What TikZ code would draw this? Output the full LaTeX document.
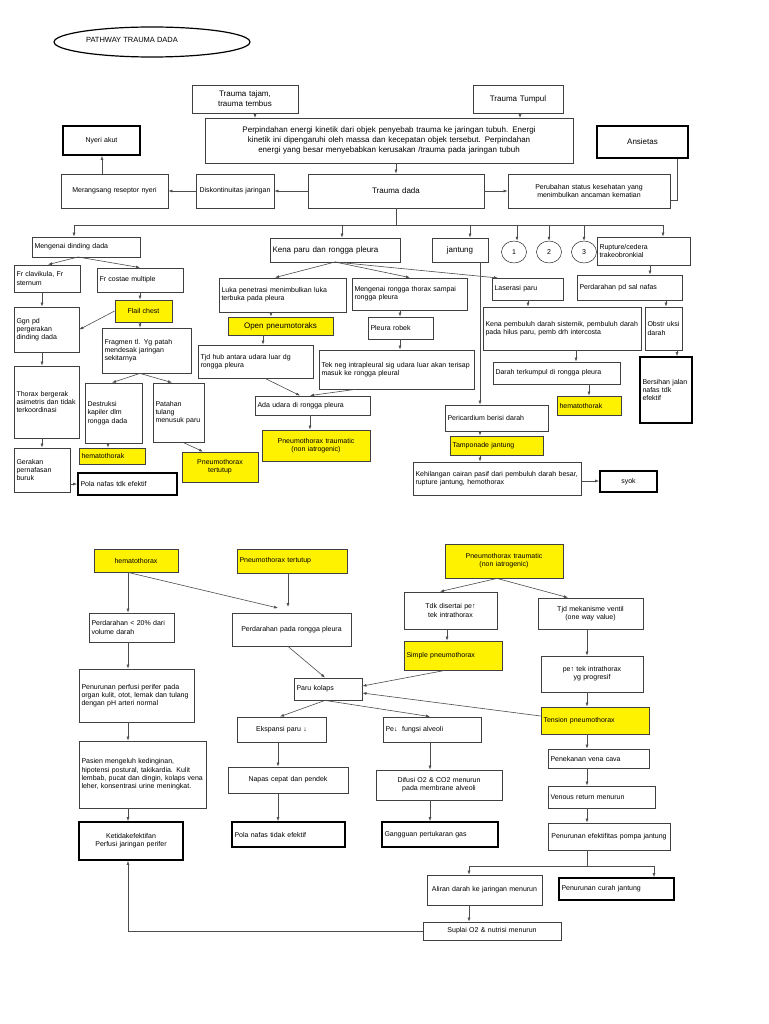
\documentclass[tikz,border=0pt]{standalone}
\usepackage{fontspec}
\setmainfont{Liberation Sans}
\usetikzlibrary{arrows.meta,shapes.geometric}
\hyphenpenalty=10000
\exhyphenpenalty=10000
\newcommand\B[7]{%
 \pgfmathsetmacro\bw{#4-#2}\pgfmathsetmacro\bh{#5-#3}\pgfmathsetmacro\tw{#4-#2-5}%
 \node[box,#6,minimum width=\bw pt,minimum height=\bh pt,text width=\tw pt] (#1) at ({(#2+#4)/2},{(#3+#5)/2}) {#7};}
\begin{document}
\begin{tikzpicture}[x=1pt,y=-1pt,
 box/.style={draw=black!75,line width=0.8pt,inner sep=1pt,font=\fontsize{7}{8.3}\selectfont,align=left},
 thick box/.style={line width=1.8pt,draw=black},
 yel/.style={fill=yellow},
 cen/.style={align=center},
 big/.style={font=\fontsize{8}{9.8}\selectfont},
 ar/.style={draw=black!70,line width=0.6pt,-{Latex[length=4pt,width=3pt]}},
 ln/.style={draw=black!70,line width=0.6pt}]
\useasboundingbox (0,0) rectangle (768,1024);
\fill[white] (0,0) rectangle (768,1024);
% title
\node[draw,ellipse,line width=1.2pt,minimum width=182pt,minimum height=30pt,font=\fontsize{7.5}{8}\selectfont] (title) at (152,42) {\raisebox{5pt}{PATHWAY TRAUMA DADA}\hspace*{40pt}};
% top
\B{t1}{192}{85}{298}{113}{cen,big}{Trauma tajam,\\trauma tembus}
\B{t2}{473}{85}{563}{113}{cen,big}{Trauma Tumpul}
\B{en}{205}{118}{573}{163}{cen,big}{Perpindahan energi kinetik dari objek penyebab trauma ke jaringan tubuh. Energi kinetik ini dipengaruhi oleh massa dan kecepatan objek tersebut. Perpindahan energi yang besar menyebabkan kerusakan /trauma pada jaringan tubuh}
\B{nyeri}{63}{126}{140}{155}{thick box,cen}{Nyeri akut\\[8pt]}
\B{ans}{597}{126}{688}{158}{thick box,cen,big}{Ansietas\\[6pt]}
\B{mer}{61}{174}{168}{208}{cen}{Merangsang reseptor nyeri}
\B{disk}{196}{174}{274}{208}{cen}{Diskontinuitas jaringan}
\B{td}{308}{174}{484}{208}{cen,big}{Trauma dada\\[10pt]}
\B{perub}{508}{174}{670}{208}{cen}{Perubahan status kesehatan yang menimbulkan ancaman kematian}
\draw[ar] (t1.south-|255,0) -- (255,118);
\draw[ar] (t2.south-|520,0) -- (520,118);
\draw[ar] (en.south-|396,0) -- (td.north-|396,0);
\draw[ar] (td.west) -- (disk.east);
\draw[ar] (disk.west) -- (mer.east);
\draw[ar] (mer.north-|102,0) -- (nyeri.south-|102,0);
\draw[ar] (td.east) -- (perub.west);
\draw[ln] (perub.east|-0,200) -| (ans.south-|677,0);
% bus
\coordinate (bus) at (396,225);
\draw[ln] (td.south-|396,0) -- (bus);
\draw[ln] (74,225) -- (663,225);
\B{meng}{32}{237}{140}{257}{}{Mengenai dinding dada}
\B{kena}{270}{238}{400}{262}{big}{Kena paru dan rongga pleura}
\B{jan}{432}{238}{488}{262}{big,cen}{jantung}
\node[draw,ellipse,minimum width=25pt,minimum height=22pt,font=\fontsize{7}{8}\selectfont] (c1) at (514,252) {1};
\node[draw,ellipse,minimum width=25pt,minimum height=22pt,font=\fontsize{7}{8}\selectfont] (c2) at (549,252) {2};
\node[draw,ellipse,minimum width=25pt,minimum height=22pt,font=\fontsize{7}{8}\selectfont] (c3) at (584,252) {3};
\B{rup}{597}{237}{690}{265}{}{Rupture/cedera trakeobronkial}
\draw[ar] (74,225) -- (meng.north-|74,0);
\draw[ar] (342,225) -- (kena.north-|342,0);
\draw[ar] (470,225) -- (jan.north-|470,0);
\draw[ar] (517,225) -- (c1.north-|517,0);
\draw[ar] (549,225) -- (c2.north);
\draw[ar] (584,225) -- (c3.north);
\draw[ar] (663,225) -- (rup.north-|663,0);
% left column
\B{frc}{14}{265}{80}{292}{}{Fr clavikula, Fr sternum}
\B{frm}{97}{268}{183}{292}{}{Fr costae multiple}
\B{flail}{115}{300}{172}{322}{yel,cen}{Flail chest}
\B{gg}{14}{307}{79}{352}{}{Ggn pd pergerakan dinding dada}
\B{frag}{102}{328}{191}{373}{}{Fragmen tl. Yg patah mendesak jaringan sekitarnya}
\B{thx}{14}{366}{79}{438}{}{Thorax bergerak asimetris dan tidak terkoordinasi}
\B{des}{85}{383}{142}{443}{}{Destruksi kapiler dlm rongga dada}
\B{pat}{153}{383}{204}{442}{}{Patahan tulang menusuk paru}
\B{hm1}{79}{448}{145}{464}{yel}{hematothorak}
\B{ger}{14}{448}{70}{492}{}{Gerakan pernafasan buruk}
\B{pt1}{182}{452}{258}{482}{yel,cen}{Pneumothorax tertutup}
\B{pola1}{78}{473}{177}{495}{thick box}{Pola nafas tdk efektif}
\coordinate (mb) at (78,257);
\draw[ar] (mb) -- (frc.north-|48,0);
\draw[ar] (mb) -- (frm.north-|140,0);
\draw[ar] (frc.south-|42,0) -- (gg.north-|42,0);
\draw[ar] (frm.south-|140,0) -- (flail.north-|140,0);
\draw[ar] (flail.west) -- (gg.east);
\draw[ar] (flail.south-|140,0) -- (frag.north-|140,0);
\draw[ar] (frag.south-|140,0) -- (des.north-|112,0);
\draw[ar] (frag.south-|140,0) -- (pat.north-|172,0);
\draw[ar] (gg.south-|42,0) -- (thx.north-|42,0);
\draw[ar] (thx.south-|42,0) -- (ger.north-|42,0);
\draw[ar] (ger.east|-0,484) -- (pola1.west|-0,484);
\draw[ar] (des.south-|108,0) -- (hm1.north-|108,0);
\draw[ar] (pat.south-|183,0) -- (pt1.north-|203,0);
% middle
\B{luka}{219}{278}{346}{312}{}{Luka penetrasi menimbulkan luka terbuka  pada pleura}
\B{mrg}{352}{278}{467}{310}{}{Mengenai rongga thorax sampai rongga pleura}
\B{open}{228}{317}{333}{335}{yel,cen,big}{Open pneumotoraks}
\B{robek}{368}{317}{433}{339}{}{Pleura robek\\[4pt]}
\B{hub}{198}{345}{313}{378}{}{Tjd hub antara udara luar dg rongga pleura\\[6pt]}
\B{neg}{319}{350}{474}{389}{}{Tek neg intrapleural sig udara luar akan terisap masuk ke rongga pleural\\[8pt]}
\B{ada}{255}{396}{370}{415}{}{Ada udara di rongga pleura}
\B{ptr1}{262}{430}{370}{461}{yel,cen}{Pneumothorax traumatic (non iatrogenic)}
\coordinate (kb) at (335,262);
\draw[ar] (kb) -- (luka.north-|275,0);
\draw[ar] (kb) -- (mrg.north-|410,0);
\draw[ar] (kb) -- (498,278);
\draw[ar] (luka.south-|271,0) -- (open.north-|271,0);
\draw[ar] (open.south-|263,0) -- (hub.north-|263,0);
\draw[ar] (mrg.south-|400,0) -- (robek.north-|400,0);
\draw[ar] (robek.south-|400,0) -- (neg.north-|400,0);
\draw[ar] (hub.south-|265,0) -- (ada.north-|300,0);
\draw[ar] (neg.south-|355,0) -- (ada.north-|310,0);
\draw[ar] (ada.south-|310,0) -- (ptr1.north-|310,0);
% right
\B{las}{492}{278}{563}{300}{}{Laserasi paru\\[3pt]}
\B{psal}{577}{275}{682}{300}{}{Perdarahan pd sal nafas\\[4pt]}
\B{pemb}{483}{307}{641}{350}{}{Kena pembuluh darah sistemik, pembuluh darah pada hilus paru, pemb drh intercosta}
\B{obs}{645}{307}{682}{350}{}{Obstr uksi darah}
\B{dkum}{493}{362}{620}{384}{}{Darah terkumpul di rongga pleura}
\B{bers}{640}{357}{692}{423}{thick box}{Bersihan jalan nafas tdk efektif\\[16pt]}
\B{hm2}{557}{396}{621}{415}{yel}{hematothorak}
\B{peri}{445}{405}{548}{431}{}{Pericardium berisi darah\\[4pt]}
\B{tamp}{450}{436}{543}{455}{yel}{Tamponade jantung}
\B{kehi}{413}{462}{581}{495}{}{Kehilangan cairan pasif dari pembuluh darah besar, rupture jantung, hemothorax}
\B{syok}{600}{471}{657}{492}{thick box,cen}{syok}
\draw[ar] (jan.south-|480,0) -- (peri.north-|480,0);
\draw[ar] (las.south-|528,0) -- (pemb.north-|528,0);
\draw[ar] (pemb.south-|576,0) -- (dkum.north-|576,0);
\draw[ar] (dkum.south-|589,0) -- (hm2.north-|589,0);
\draw[ar] (rup.south-|650,0) -- (psal.north-|650,0);
\draw[ar] (psal.south-|666,0) -- (obs.north-|666,0);
\draw[ar] (obs.south-|677,0) -- (bers.north-|677,0);
\draw[ar] (peri.south-|480,0) -- (tamp.north-|480,0);
\draw[ar] (tamp.south-|480,0) -- (kehi.north-|480,0);
\draw[ar] (kehi.east|-0,481) -- (syok.west|-0,481);
% bottom part
\B{hmb}{94}{549}{178}{572}{yel,cen}{hematothorax}
\B{ptb}{237}{549}{347}{573}{yel}{Pneumothorax tertutup}
\B{ptrb}{445}{544}{563}{578}{yel,cen}{Pneumothorax traumatic (non iatrogenic)}
\B{p20}{89}{613}{174}{642}{}{Perdarahan < 20\% dari volume darah}
\B{prg}{232}{613}{351}{646}{cen}{Perdarahan pada rongga pleura}
\B{tdk}{404}{592}{497}{629}{cen}{Tdk disertai pe↑ tek intrathorax}
\B{mek}{538}{598}{643}{629}{cen}{Tjd mekanisme ventil (one way value)}
\B{simp}{404}{641}{502}{670}{yel}{Simple pneumothorax\\[6pt]}
\B{peup}{541}{656}{643}{692}{cen}{pe↑ tek intrathorax yg progresif}
\B{kol}{294}{678}{362}{700}{}{Paru kolaps}
\B{tens}{541}{707}{649}{734}{yel}{Tension pneumothorax\\[6pt]}
\B{perf}{79}{669}{194}{722}{}{Penurunan perfusi perifer pada organ kulit, otot, lemak dan tulang dengan pH arteri normal}
\B{eksp}{237}{717}{326}{742}{cen}{Ekspansi paru ↓\\[4pt]}
\B{fung}{383}{717}{481}{742}{}{Pe↓ \ fungsi alveoli\\[4pt]}
\B{pas}{79}{741}{206}{808}{}{Pasien mengeluh kedinginan, hipotensi postural, takikardia. Kulit lembab, pucat dan dingin, kolaps vena leher, konsentrasi urine meningkat.}
\B{vena}{548}{749}{649}{768}{}{Penekanan vena cava}
\B{nap}{228}{767}{348}{793}{cen}{Napas cepat dan pendek\\[4pt]}
\B{dif}{376}{770}{502}{800}{cen}{Difusi O2 \& CO2 menurun pada membrane alveoli}
\B{ven}{548}{786}{655}{808}{}{Venous return menurun}
\B{keti}{79}{822}{183}{860}{thick box,cen}{Ketidakefektifan Perfusi jaringan perifer\\[8pt]}
\B{pola2}{232}{822}{345}{847}{thick box}{Pola nafas tidak efektif\\[4pt]}
\B{gang}{382}{822}{498}{847}{thick box}{Gangguan pertukaran gas\\[4pt]}
\B{pomp}{548}{823}{670}{850}{cen}{Penurunan efektifitas pompa jantung}
\B{alir}{427}{875}{542}{905}{cen}{Aliran darah ke jaringan menurun}
\B{cur}{559}{878}{674}{900}{thick box}{Penurunan curah jantung}
\B{sup}{423}{922}{561}{940}{cen}{Suplai O2 \& nutrisi menurun}
\draw[ar] (hmb.south-|128,0) -- (p20.north-|128,0);
\draw[ar] (hmb.south-|128,0) -- (278,608);
\draw[ar] (ptb.south-|288,0) -- (288,607);
\draw[ar] (p20.south-|128,0) -- (perf.north-|128,0);
\draw[ar] (perf.south-|128,0) -- (pas.north-|128,0);
\draw[ar] (pas.south-|128,0) -- (keti.north-|128,0);
\draw[ar] (prg.south-|288,0) -- (kol.north-|325,0);
\draw[ar] (ptrb.south-|497,0) -- (tdk.north-|440,0);
\draw[ar] (ptrb.south-|497,0) -- (mek.north-|568,0);
\draw[ar] (tdk.south-|447,0) -- (simp.north-|447,0);
\draw[ar] (simp.south-|445,0) -- (kol.east|-0,686);
\draw[ar] (tens.west|-0,716) -- (kol.east|-0,693);
\draw[ar] (kol.south-|325,0) -- (eksp.north-|280,0);
\draw[ar] (kol.south-|325,0) -- (fung.north-|430,0);
\draw[ar] (mek.south-|587,0) -- (peup.north-|587,0);
\draw[ar] (peup.south-|587,0) -- (tens.north-|587,0);
\draw[ar] (tens.south-|587,0) -- (vena.north-|587,0);
\draw[ar] (vena.south-|587,0) -- (ven.north-|587,0);
\draw[ar] (ven.south-|587,0) -- (pomp.north-|587,0);
\coordinate (pj) at (587,866);
\draw[ln] (pomp.south-|587,0) -- (pj);
\draw[ar] (469,866) -- (alir.north-|469,0);
\draw[ar] (654,866) -- (cur.north-|654,0);
\draw[ln] (469,866) -- (654,866);
\draw[ar] (alir.south-|469,0) -- (sup.north-|469,0);
\draw[ar] (sup.west) -| (keti.south-|128,0);
\draw[ar] (eksp.south-|278,0) -- (nap.north-|278,0);
\draw[ar] (nap.south-|278,0) -- (pola2.north-|278,0);
\draw[ar] (fung.south-|430,0) -- (dif.north-|430,0);
\draw[ar] (dif.south-|430,0) -- (gang.north-|430,0);
\end{tikzpicture}
\end{document}
